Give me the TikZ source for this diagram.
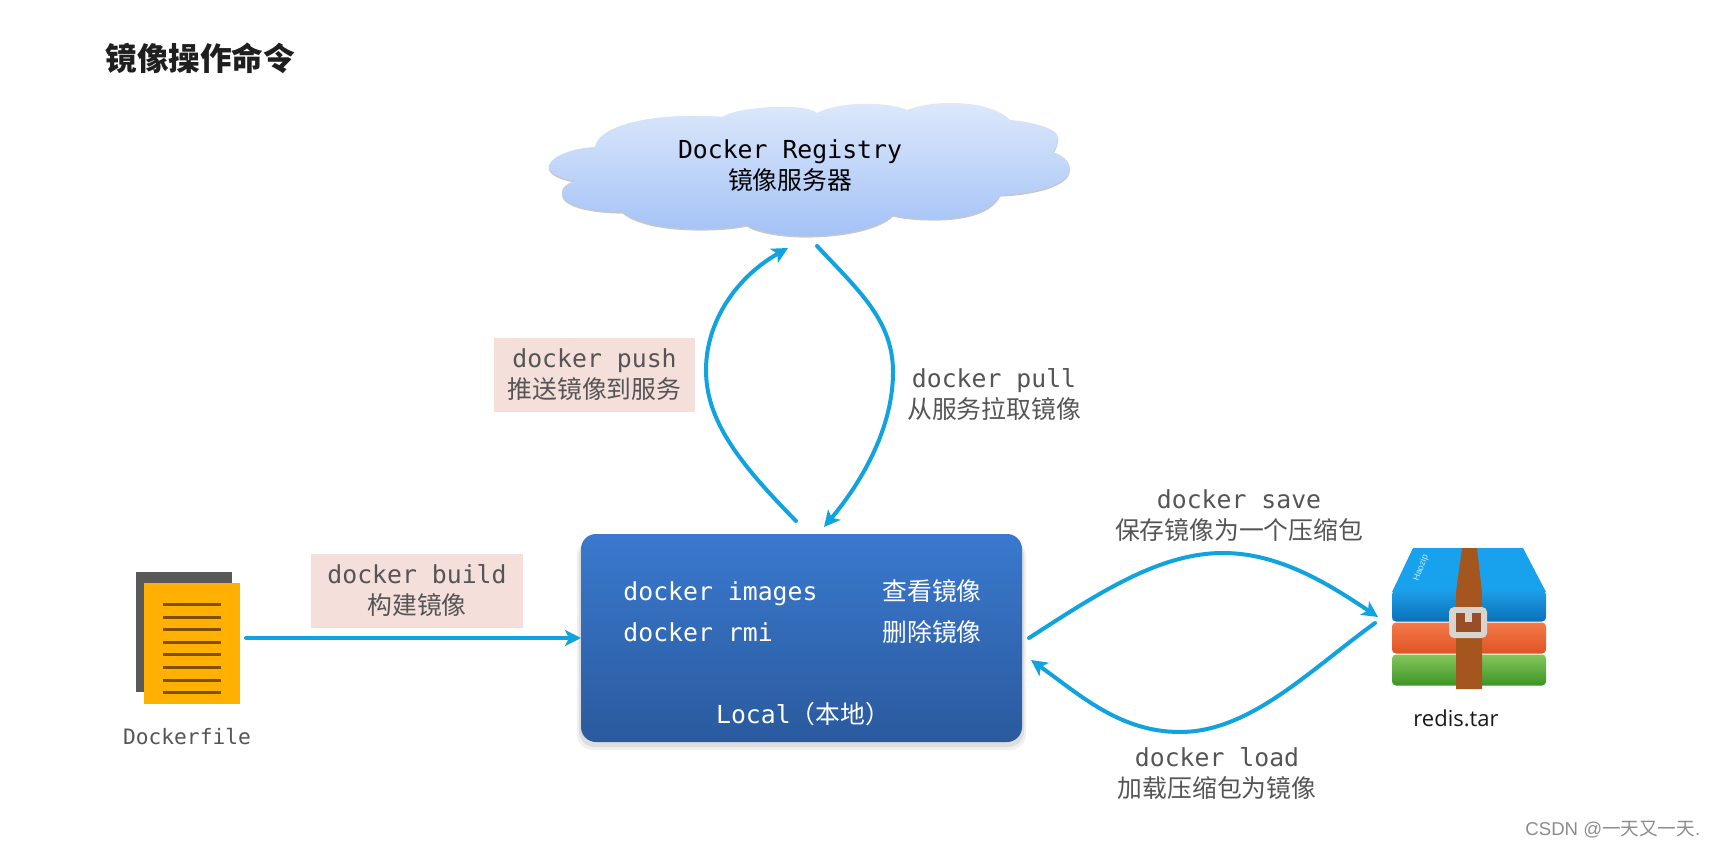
\documentclass[tikz,border=0pt]{standalone}
\usepackage{fontspec}
\setmainfont{Liberation Sans}
\newfontfamily\cjk{Noto Sans CJK SC}
\newfontfamily\monof{DejaVu Sans Mono}
\newfontfamily\openf{Open Sans}
\usetikzlibrary{arrows.meta}
\definecolor{flow}{HTML}{11A3DF}
\definecolor{labelgray}{HTML}{555555}
\definecolor{pinkfill}{HTML}{F4DFDB}
\definecolor{cloudtop}{HTML}{DCE8FB}
\definecolor{cloudbot}{HTML}{A3C2F6}
\definecolor{localtop}{HTML}{3A79CE}
\definecolor{localbot}{HTML}{2A5A9E}
\definecolor{docorange}{HTML}{FFB000}
\definecolor{docline}{HTML}{7F5000}
\definecolor{ziptop}{HTML}{18A2EE}
\definecolor{bluetop}{HTML}{1C9FE8}
\definecolor{bluebot}{HTML}{0B6FB8}
\definecolor{ortop}{HTML}{F4794A}
\definecolor{orbot}{HTML}{DF5522}
\definecolor{grtop}{HTML}{84C65C}
\definecolor{grbot}{HTML}{3D9426}
\definecolor{strap}{HTML}{A5561E}
\definecolor{bucklec}{HTML}{D9D4CD}
\definecolor{bucklein}{HTML}{984E26}
\newcommand{\zh}[1]{{\cjk #1}}
\tikzset{
  cmd/.style={align=center,inner sep=0pt,text=labelgray,
    font=\monof\fontsize{12.4}{15.5}\selectfont},
  pinkbox/.style={cmd,fill=pinkfill},
  inbox/.style={anchor=base west,inner sep=0pt,text=white,
    font=\monof\fontsize{12.4}{15.5}\selectfont},
  flowline/.style={draw=flow,line width=2pt,line cap=round,
    -{Stealth[length=8pt,width=8pt,inset=2pt]}},
  stackband/.style={rounded corners=2pt,minimum width=77pt,inner sep=0pt},
}
\begin{document}
\begin{tikzpicture}[x=0.5pt,y=-0.5pt]
\useasboundingbox (0,0) rectangle (1716,849);
\fill[white] (0,0) rectangle (1716,849);

% title
\node[inner sep=0pt,anchor=west,text=black!88] (title) at (105,58)
  {\cjk\bfseries\fontsize{15.8}{18}\selectfont 镜像操作命令};

% cloud
\def\cloudpath{(549,165)
 .. controls (553,155) and (575,148) .. (595,147)
 .. controls (598,128) and (640,116) .. (690,116)
 .. controls (705,116) and (715,116) .. (722,117)
 .. controls (735,109) and (770,106) .. (790,107)
 .. controls (800,107) and (812,109) .. (817,113)
 .. controls (830,106) and (855,103) .. (870,104)
 .. controls (888,104) and (900,107) .. (907,110)
 .. controls (920,105) and (935,103) .. (950,103)
 .. controls (980,103) and (1000,110) .. (1010,120)
 .. controls (1035,122) and (1062,130) .. (1058,140)
 .. controls (1057,146) and (1055,150) .. (1053,152)
 .. controls (1065,156) and (1074,165) .. (1068,175)
 .. controls (1060,187) and (1030,194) .. (1000,195)
 .. controls (992,212) and (965,219) .. (935,219)
 .. controls (915,219) and (900,217) .. (893,215)
 .. controls (880,228) and (845,236) .. (805,236)
 .. controls (780,236) and (755,231) .. (747,225)
 .. controls (725,230) and (680,231) .. (650,224)
 .. controls (635,220) and (627,216) .. (623,212)
 .. controls (590,212) and (560,205) .. (562,192)
 .. controls (562,187) and (568,183) .. (575,181)
 .. controls (558,178) and (547,172) .. (549,165) -- cycle}
\fill[black,opacity=0.22,yshift=-0.8pt] \cloudpath;
\shade[top color=cloudtop,bottom color=cloudbot] \cloudpath;
\node[align=center,inner sep=0pt,text=black,font=\monof\fontsize{12.4}{15.5}\selectfont]
  (registry) at (790,166) {Docker Registry\\[0pt]\zh{镜像服务器}};

% local box
\fill[black,opacity=0.06,rounded corners=8pt] (577,540) rectangle (1026,750);
\fill[black,opacity=0.08,rounded corners=8pt] (579,540) rectangle (1024,747);
\node[rounded corners=7.5pt,minimum width=220.5pt,minimum height=104pt,inner sep=0pt,
  top color=localtop,bottom color=localbot] (local) at (801.5,638) {};
\node[inbox] (img) at (623,600) {docker images};
\node[inbox] (rmi) at (623,641) {docker rmi};
\node[inbox] (imgzh) at (882,600) {\cjk 查看镜像};
\node[inbox] (rmizh) at (882,641) {\cjk 删除镜像};
\node[inbox,anchor=base] (localtxt) at (803,723) {Local\zh{（本地）}};

% dockerfile icon
\fill[fill=black!65] (136,572) rectangle (232,692);
\node[fill=docorange,minimum width=48pt,minimum height=60.5pt,inner sep=0pt] (docfile) at (192,643.5) {};
\foreach \ly in {604,617,629,642,654,667,680,692}
  \draw[color=docline,line width=1.5pt] (163,\ly) -- (221,\ly);
\node[cmd,font=\monof\fontsize{10.6}{13}\selectfont] (dockerfile) at (187,737) {Dockerfile};

% archive icon
\fill[color=ziptop] (1413,548) -- (1523,548) -- (1546,592) -- (1392,592) -- cycle;
\node[stackband,minimum height=15.5pt,top color=bluetop,bottom color=bluebot] (blueband) at (1469,606) {};
\node[stackband,minimum height=15.5pt,top color=ortop,bottom color=orbot] (orangeband) at (1469,638) {};
\node[stackband,minimum height=15.5pt,top color=grtop,bottom color=grbot] (greenband) at (1469,670) {};
\fill[color=strap] (1462,548) -- (1477,548) -- (1482,592) -- (1482,689) -- (1456,689) -- (1456,592) -- cycle;
\node[rounded corners=2.5pt,fill=bucklec,minimum width=19pt,minimum height=15.5pt,inner sep=0pt] (buckle) at (1468,622.5) {};
\fill[color=bucklein] (1456,613) rectangle (1481,632);
\fill[color=bucklec] (1465,613) rectangle (1472,622);
\node[rotate=70,inner sep=0pt,text=white!75!ziptop,font=\fontsize{4.5}{5}\selectfont] (haozip) at (1421,568) {Haozip};
\node[inner sep=0pt,text=black!90,font=\openf\fontsize{11}{13}\selectfont] (redis) at (1456,718) {redis.tar};

% labels
\node[pinkbox,minimum width=106pt,minimum height=37pt] (build) at (417,591) {docker build\\\zh{构建镜像}};
\node[pinkbox,minimum width=100.5pt,minimum height=37pt] (push) at (594.5,375) {docker push\\\zh{推送镜像到服务}};
\node[cmd] (pull) at (994,395) {docker pull\\\zh{从服务拉取镜像}};
\node[cmd] (save) at (1239,516) {docker save\\\zh{保存镜像为一个压缩包}};
\node[cmd] (load) at (1217,774) {docker load\\\zh{加载压缩包为镜像}};

% connector ends
\coordinate (buildS) at (246,638);
\coordinate (buildE) at (581,638);
\coordinate (pushS) at (796,521);
\coordinate (pushE) at (788,248);
\coordinate (pullS) at (817,246);
\coordinate (pullE) at (824,527);
\coordinate (saveS) at (1029,638);
\coordinate (saveE) at (1378,617);
\coordinate (loadS) at (1375,623);
\coordinate (loadE) at (1031,660);

\draw[flowline] (buildS) -- (buildE);
\draw[flowline] (pushS) .. controls (738,462) and (706,420) .. (706,370)
  .. controls (706,320) and (738,276) .. (pushE);
\draw[flowline] (pullS) .. controls (858,290) and (893,320) .. (893,372)
  .. controls (893,425) and (865,478) .. (pullE);
\draw[flowline] (saveS) .. controls (1100,592) and (1160,553) .. (1223,553)
  .. controls (1280,553) and (1330,585) .. (saveE);
\draw[flowline] (loadS) .. controls (1310,670) and (1250,732) .. (1180,732)
  .. controls (1120,732) and (1080,695) .. (loadE);

% watermark
\node[inner sep=0pt,anchor=west,text=black!45,font=\fontsize{9.3}{11}\selectfont] (csdn) at (1525,830) {CSDN @\zh{一天又一天}.};
\end{tikzpicture}
\end{document}
